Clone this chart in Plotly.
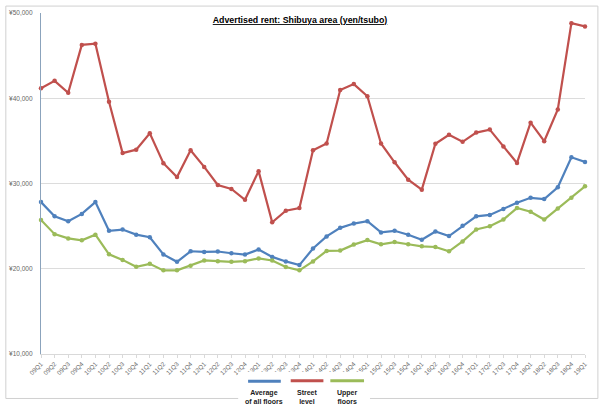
import plotly.graph_objects as go

quarters = []
for yr in range(9, 19):
    for q in range(1, 5):
        quarters.append(f"{yr:02d}Q{q}")
quarters.append("19Q1")

average_all = [27820, 26150, 25570, 26430, 27820, 24450, 24600, 24000, 23700, 21670,
               20810, 22050, 21970, 22020, 21820, 21670, 22250, 21390, 20860, 20430,
               22370, 23790, 24800, 25300, 25570, 24260, 24450, 23990, 23410, 24370,
               23830, 25030, 26150, 26310, 27010, 27740, 28320, 28170, 29560, 33070,
               32530]
street_level = [41160, 42040, 40650, 46260, 46400, 39600, 33570, 33970, 35900, 32380,
                30750, 33900, 31950, 29830, 29360, 28090, 31450, 25450, 26800, 27120,
                33890, 34700, 40960, 41660, 40230, 34700, 32490, 30440, 29280, 34660,
                35710, 34890, 35970, 36320, 34350, 32410, 37130, 34960, 38680, 48810,
                48420]
upper_floors = [25730, 24060, 23560, 23330, 24000, 21700, 21040, 20230, 20580, 19810,
                19810, 20350, 20970, 20890, 20810, 20890, 21210, 20970, 20200, 19810,
                20860, 22090, 22130, 22830, 23360, 22870, 23130, 22870, 22630, 22550,
                22050, 23210, 24600, 24990, 25770, 27120, 26690, 25770, 27080, 28320,
                29670]

y_tick_vals = [10000, 20000, 30000, 40000, 50000]
y_tick_text = ["¥10,000", "¥20,000", "¥30,000", "¥40,000", "¥50,000"]

series_names = ["Average<br>of all floors", "Street<br>level", "Upper<br>floors"]
series_colors = ["#4F81BD", "#C0504D", "#9BBB59"]

fig = go.Figure()
for name, vals, col in zip(series_names, [average_all, street_level, upper_floors], series_colors):
    fig.add_trace(go.Scatter(
        x=quarters, y=vals, mode="lines+markers", name=name,
        line=dict(color=col, width=2.2),
        marker=dict(color=col, size=4.5),
        cliponaxis=False, showlegend=False,
    ))

W, H = 600, 416
ml, mr, mt, mb = 36, 15, 9, 62
pw, ph = W - ml - mr, H - mt - mb

def px(p):
    return (p - ml) / pw

def py(p):
    return (H - mb - p) / ph

shapes = [
    # chart frame
    dict(type="rect", xref="paper", yref="paper", x0=px(0.5), x1=px(598), y0=py(399), y1=py(2),
         line=dict(color="#D0D0D0", width=1), fillcolor="rgba(0,0,0,0)", layer="above"),
    # legend background
    dict(type="rect", xref="paper", yref="paper", x0=px(235), x1=px(368), y0=py(410), y1=py(372),
         line=dict(width=0), fillcolor="white", layer="above"),
]
legend_lines = [(245, 278, 381.5), (288, 321, 381), (328, 362, 381)]
annotations = []
for (x0, x1, yy), col, name in zip(legend_lines, series_colors, series_names):
    shapes.append(dict(type="line", xref="paper", yref="paper", x0=px(x0), x1=px(x1),
                       y0=py(yy), y1=py(yy), line=dict(color=col, width=3), layer="above"))
    annotations.append(dict(xref="paper", yref="paper", x=px((x0 + x1) / 2), y=py(397.5),
                            text=f"<b>{name}</b>", showarrow=False, xanchor="center", yanchor="middle",
                            font=dict(family="Liberation Sans", size=7, color="#1a1a1a"),
                            align="center"))

fig.update_layout(
    width=W, height=H,
    margin=dict(l=ml, r=mr, t=mt, b=mb),
    paper_bgcolor="white", plot_bgcolor="white",
    title=dict(text="<b><u>Advertised rent: Shibuya area (yen/tsubo)</u></b>",
               x=0.5, xanchor="center", xref="container",
               y=1 - 20 / H, yanchor="middle", yref="container",
               font=dict(family="Liberation Sans", size=8.8, color="#000000")),
    shapes=shapes,
    annotations=annotations,
    xaxis=dict(
        type="category", range=[0, len(quarters) - 1],
        tickangle=-45, tickfont=dict(family="Liberation Sans", size=6.3, color="#666666"),
        showgrid=False, showline=True, linecolor="#D9D9D9", linewidth=1,
        ticks="outside", ticklen=3, tickcolor="#D9D9D9", zeroline=False,
    ),
    yaxis=dict(
        range=[10000, 50000], tickvals=y_tick_vals, ticktext=y_tick_text,
        tickfont=dict(family="Liberation Sans", size=6.5, color="#666666"),
        showgrid=True, gridcolor="#DCDCDC", gridwidth=1,
        showline=True, linecolor="#8BA3BC", linewidth=1.3,
        ticks="", ticklabelstandoff=6, zeroline=False,
    ),
)

fig.write_html("out.html", config={"displayModeBar": False},
               post_script="document.body.style.margin='0';document.body.style.overflow='hidden';")
